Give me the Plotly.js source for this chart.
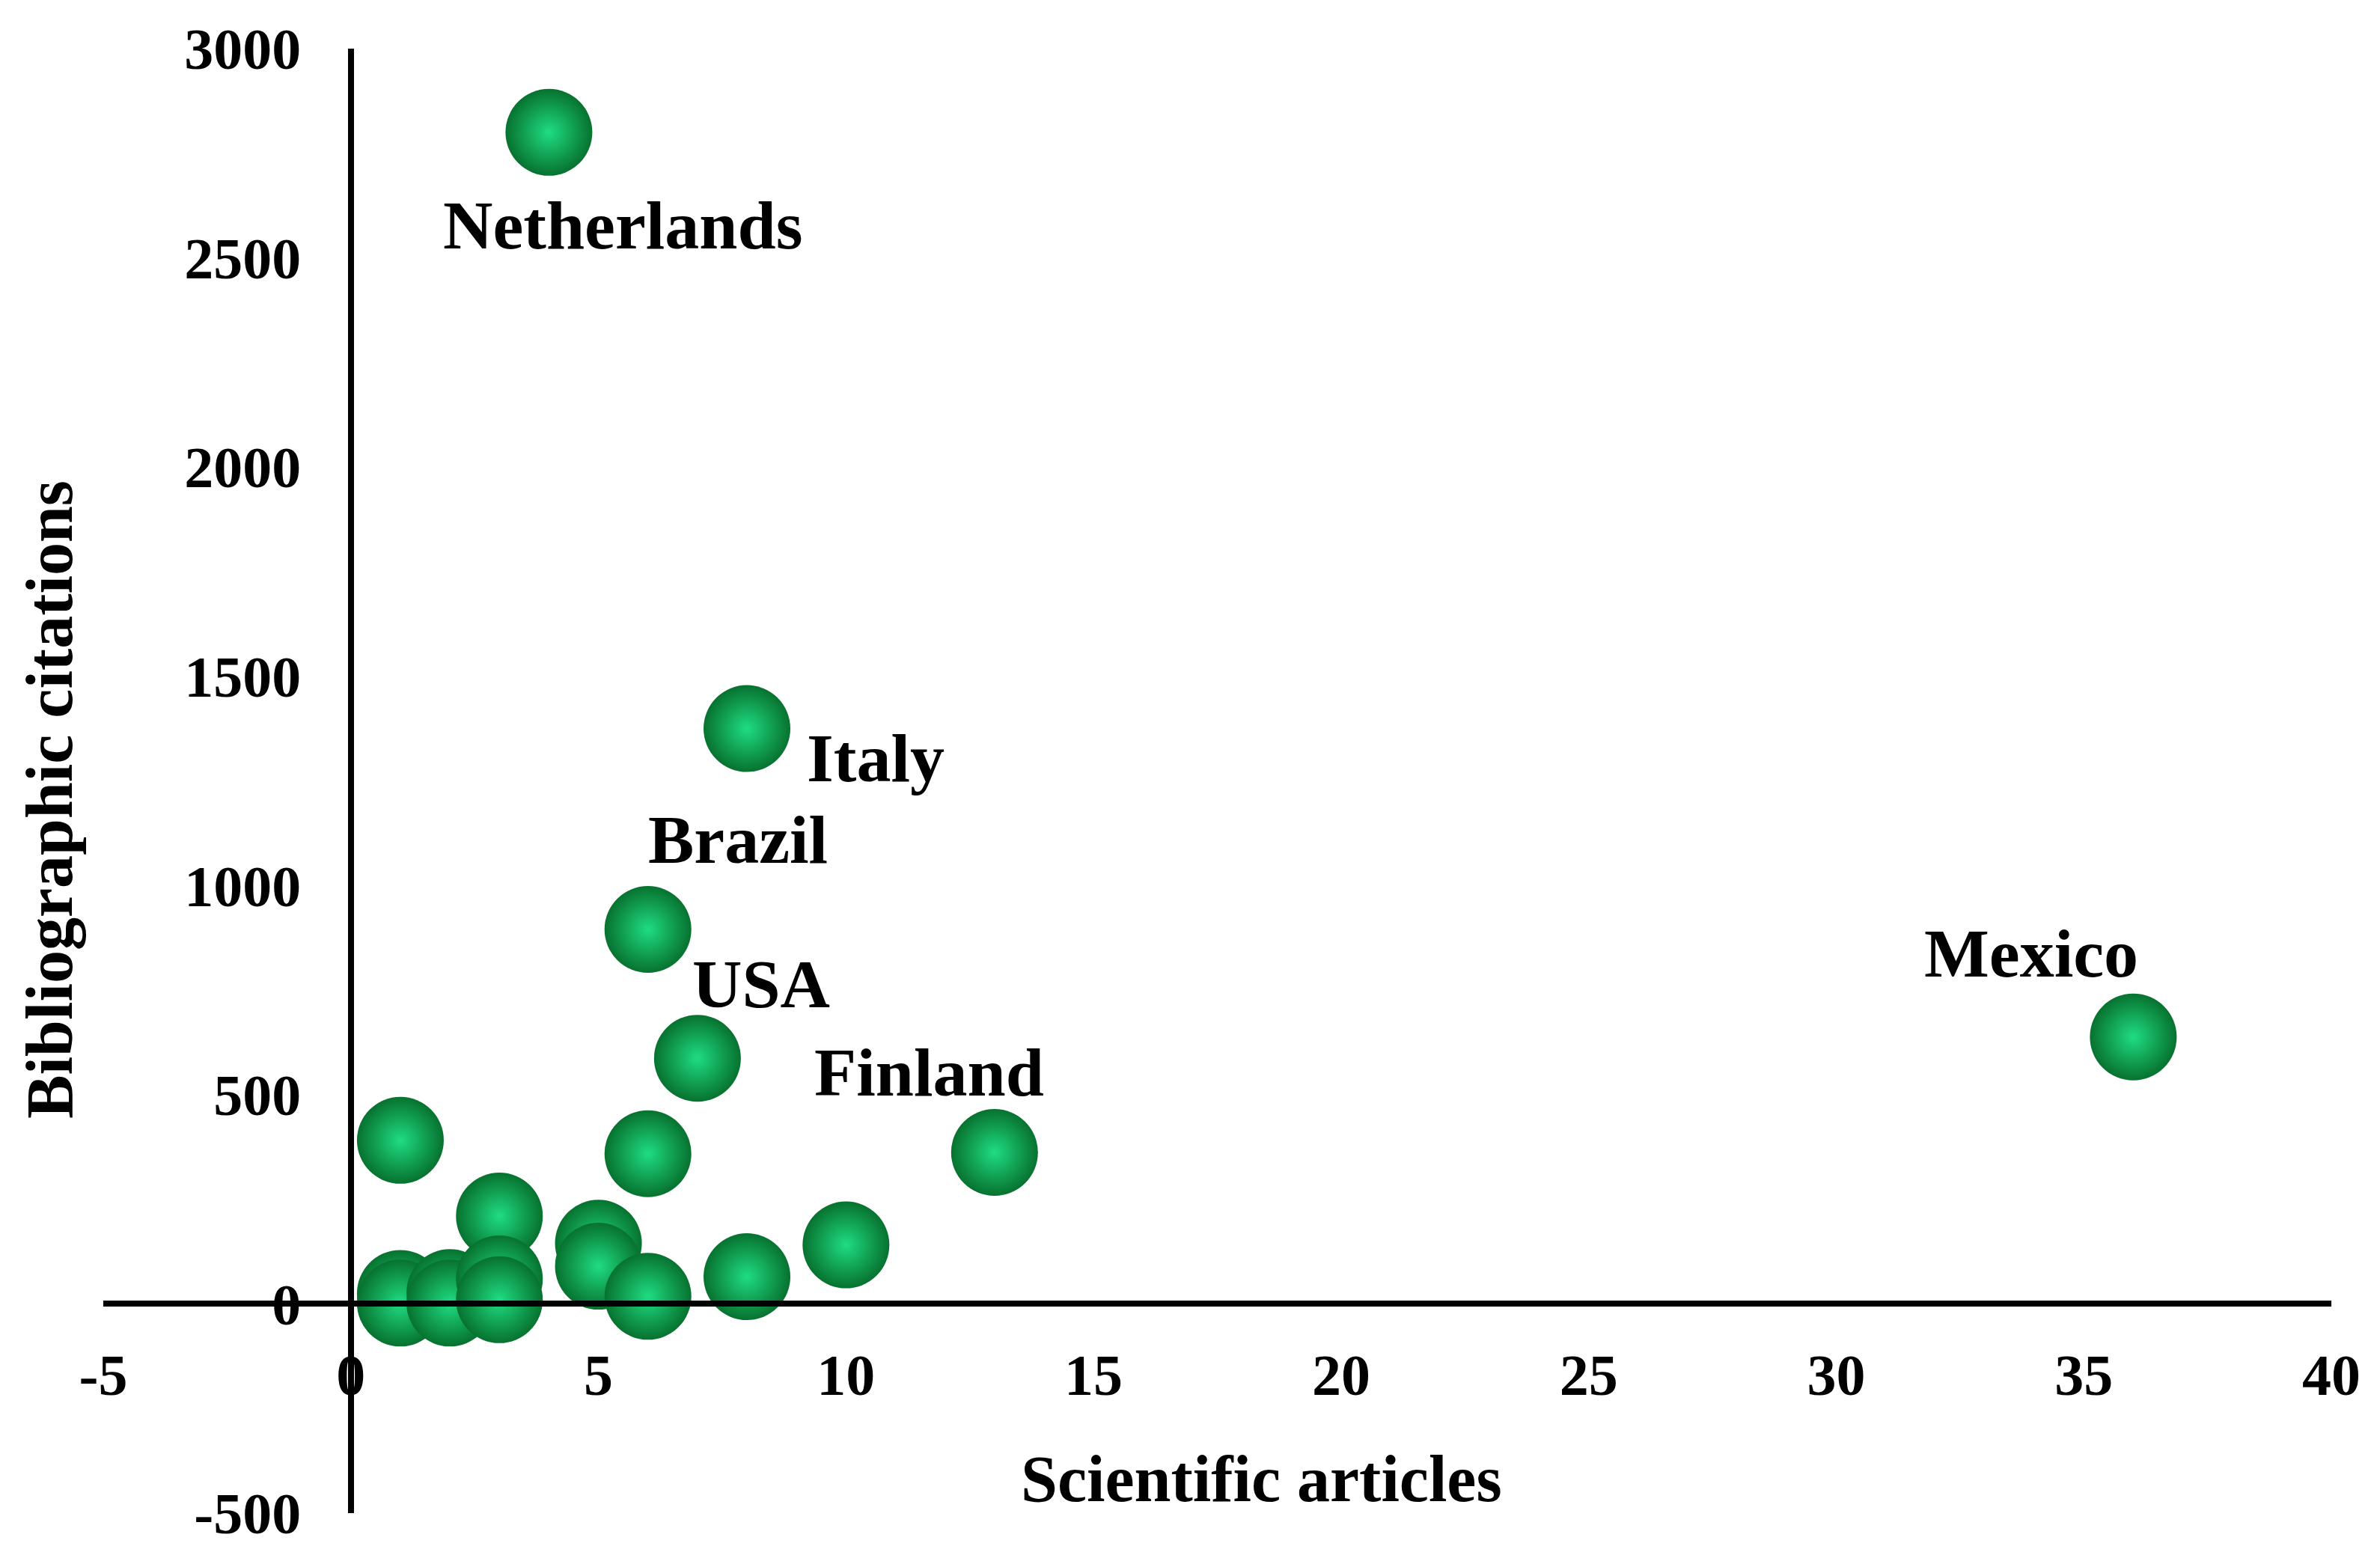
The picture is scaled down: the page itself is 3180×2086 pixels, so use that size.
<html>
<head>
<meta charset="utf-8" />
<title>Scientific articles vs citations</title>
<script src="https://cdn.plot.ly/plotly-3.0.1.min.js"></script>
<style>
  body { margin: 0; background: #fff; }
</style>
</head>
<body>

<div id="myDiv" style="width:3180px;height:2086px;"></div>

<script>

// points
const articles  = [4, 8, 6, 7, 13, 36, 1, 6, 3, 10, 5, 5, 8, 6, 1, 1, 2, 2, 3, 3];
const citations = [2800, 1375, 895, 587, 362, 638, 391, 359, 210, 141, 145, 90, 65, 18, 25, 2, 27, 2, 60, 10];

// labelled countries (index into the arrays above)
const countries   = ['Netherlands', 'Italy', 'Brazil', 'USA', 'Finland', 'Mexico'];
const labelShiftX = [99, 172, 120, 85, -87, -136];
const labelShiftY = [-124, -39, 120, 99, 107, 112];

const xTickVals   = [-5, 0, 5, 10, 15, 20, 25, 30, 35, 40];
const xTickLabels = ['-5', '0', '5', '10', '15', '20', '25', '30', '35', '40'];
const yTickVals   = [-500, 0, 500, 1000, 1500, 2000, 2500, 3000];
const yTickLabels = ['-500', '0', '500', '1000', '1500', '2000', '2500', '3000'];

var serif = 'Liberation Serif, Times New Roman, serif';

// radial gradient: gradient.color sits in the middle, marker.color at the rim
var trace1 = {
  x: articles,
  y: citations,
  mode: 'markers',
  type: 'scatter',
  hoverinfo: 'none',
  marker: {
    size: 116,
    color: '#07722f',
    gradient: { type: 'radial', color: '#1fdc82' },
    line: { width: 0 }
  }
};

var annotations = countries.map(function (name, i) {
  return {
    x: articles[i],
    y: citations[i],
    xref: 'x',
    yref: 'y',
    text: name,
    showarrow: false,
    xshift: labelShiftX[i],
    yshift: labelShiftY[i],
    font: { family: serif, size: 92, color: '#000', weight: 'bold' }
  };
});

annotations.push({
  xref: 'paper', yref: 'paper',
  x: 0.5197, y: 0.023,
  text: 'Scientific articles',
  showarrow: false,
  xanchor: 'center', yanchor: 'middle',
  font: { family: serif, size: 88, color: '#000', weight: 'bold' }
});

annotations.push({
  xref: 'paper', yref: 'paper',
  x: -0.0238, y: 0.487,
  text: 'Bibliographic citations',
  textangle: -90,
  showarrow: false,
  xanchor: 'center', yanchor: 'middle',
  font: { family: serif, size: 88, color: '#000', weight: 'bold' }
});

var layout = {
  width: 3180,
  height: 2086,
  margin: { l: 138, r: 65, t: 65, b: 64 },
  paper_bgcolor: '#fff',
  plot_bgcolor: '#fff',
  showlegend: false,
  xaxis: {
    range: [-5, 40],
    tickvals: xTickVals,
    ticktext: xTickLabels,
    showgrid: false,
    zeroline: false,
    showline: true,
    linewidth: 8,
    linecolor: '#000',
    ticks: '',
    ticklabelstandoff: 24,
    anchor: 'free',
    position: 500 / 3500,
    tickfont: { family: serif, size: 78, color: '#000', weight: 'bold' }
  },
  yaxis: {
    range: [-500, 3000],
    tickvals: yTickVals,
    ticktext: yTickLabels,
    showgrid: false,
    zeroline: false,
    showline: true,
    linewidth: 8,
    linecolor: '#000',
    ticks: '',
    ticklabelstandoff: 47,
    anchor: 'free',
    position: 5 / 45,
    tickfont: { family: serif, size: 78, color: '#000', weight: 'bold' }
  },
  annotations: annotations
};

Plotly.newPlot('myDiv', [trace1], layout, { displayModeBar: false, staticPlot: true });

</script>

</body>
</html>
